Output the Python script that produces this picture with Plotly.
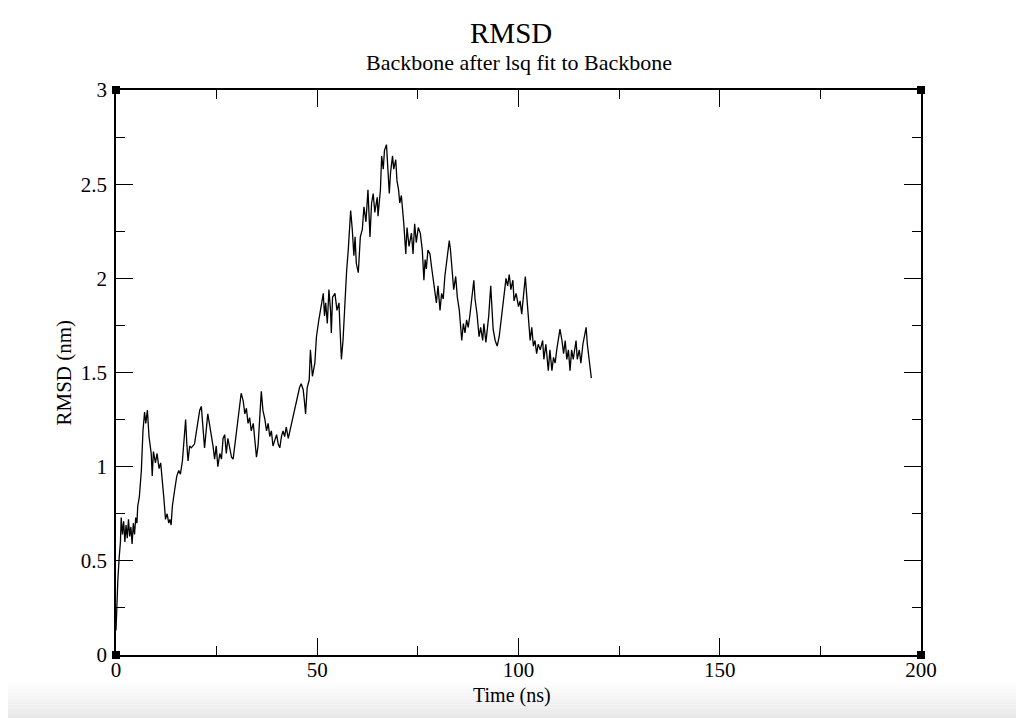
import plotly.graph_objects as go

title_text = "RMSD"
subtitle_text = "Backbone after lsq fit to Backbone"
x_title = "Time (ns)"
y_title = "RMSD (nm)"

time_ns = [
    0.0, 0.2, 0.46, 0.8, 1.1, 1.29, 1.6, 1.9, 2.2, 2.5, 2.8, 3.1, 3.4, 3.7, 4.0, 4.3, 4.6, 4.9, 5.2, 5.4,
    5.8, 6.3, 6.7, 7.1, 7.4, 7.8, 8.2, 8.75, 9.0, 9.3, 9.8, 10.2, 10.7, 11.1, 11.5, 11.9, 12.3, 12.7, 13.1, 13.4,
    13.7, 14.0, 14.6, 15.1, 15.6, 16.0, 16.5, 17.0, 17.3, 17.6, 17.9, 18.3, 18.7, 19.1, 19.5, 20.0, 20.4, 20.8, 21.2, 21.6,
    22.0, 22.4, 22.8, 23.2, 23.7, 24.1, 24.5, 24.9, 25.3, 25.8, 26.2, 26.6, 27.0, 27.4, 27.8, 28.2, 28.7, 29.1, 29.5, 29.9,
    30.3, 30.7, 31.1, 31.6, 32.0, 32.4, 32.8, 33.2, 33.6, 34.1, 34.5, 34.9, 35.3, 35.7, 36.1, 36.5, 37.0, 37.4, 37.8, 38.2,
    38.6, 39.0, 39.5, 39.9, 40.3, 40.7, 41.1, 41.5, 41.9, 42.3, 42.8, 43.2, 43.6, 44.0, 44.4, 44.8, 45.2, 45.6, 46.0, 46.5,
    46.8, 47.1, 47.5, 48.0, 48.3, 48.8, 49.4, 49.8, 50.4, 51.0, 51.5, 51.8, 52.1, 52.5, 52.9, 53.3, 53.5, 53.8, 54.4, 54.9,
    55.4, 55.6, 56.0, 56.4, 56.8, 57.3, 57.7, 58.1, 58.3, 58.7, 59.1, 59.4, 59.7, 60.2, 60.4, 60.7, 61.2, 61.6, 62.1, 62.6,
    63.1, 63.5, 63.9, 64.3, 64.9, 65.1, 65.7, 66.0, 66.4, 66.7, 67.2, 67.5, 67.9, 68.2, 68.7, 69.0, 69.5, 69.8, 70.2, 70.5,
    70.9, 71.5, 72.0, 72.3, 72.8, 73.4, 73.8, 74.2, 74.6, 75.1, 75.6, 76.1, 76.5, 76.8, 77.1, 77.5, 78.0, 78.4, 78.8, 79.2,
    79.6, 80.0, 80.5, 80.9, 81.3, 81.7, 82.1, 82.8, 83.1, 83.6, 83.9, 84.4, 84.8, 85.3, 85.6, 85.9, 86.3, 86.7, 87.1, 87.5,
    87.9, 88.3, 88.9, 89.2, 89.7, 90.2, 90.6, 91.1, 91.4, 91.9, 92.2, 92.6, 93.1, 93.4, 93.7, 94.2, 94.7, 95.2, 95.8, 96.2,
    96.9, 97.3, 97.7, 98.1, 98.6, 98.9, 99.4, 100.0, 100.4, 100.8, 101.2, 101.7, 102.0, 102.4, 102.9, 103.3, 103.7, 104.1, 104.5, 104.9,
    105.4, 106.0, 106.3, 106.8, 107.4, 107.8, 108.3, 108.7, 109.1, 109.5, 109.9, 110.3, 110.8, 111.2, 111.6, 112.0, 112.4, 112.8, 113.2, 113.6,
    114.3, 114.6, 115.1, 115.5, 116.0, 116.5, 116.8, 117.1, 117.5, 117.8, 118.1,
]

rmsd_nm = [
    0.13, 0.30, 0.40, 0.52, 0.60, 0.73, 0.64, 0.71, 0.60, 0.69, 0.62, 0.72, 0.63, 0.68, 0.59, 0.70, 0.64, 0.73, 0.70, 0.79,
    0.84, 0.98, 1.19, 1.29, 1.23, 1.30, 1.16, 1.07, 0.95, 1.08, 1.02, 1.07, 0.99, 1.02, 0.94, 0.83, 0.72, 0.75, 0.70, 0.72,
    0.69, 0.79, 0.88, 0.95, 0.98, 0.96, 1.03, 1.21, 1.25, 1.12, 1.03, 1.11, 1.10, 1.11, 1.12, 1.19, 1.26, 1.30, 1.32, 1.21,
    1.10, 1.19, 1.28, 1.23, 1.17, 1.11, 1.04, 1.11, 1.00, 1.07, 1.04, 1.15, 1.17, 1.07, 1.15, 1.11, 1.05, 1.04, 1.11, 1.19,
    1.26, 1.31, 1.39, 1.35, 1.28, 1.31, 1.23, 1.26, 1.19, 1.23, 1.12, 1.05, 1.11, 1.28, 1.40, 1.30, 1.25, 1.19, 1.23, 1.16,
    1.19, 1.11, 1.15, 1.17, 1.12, 1.10, 1.16, 1.19, 1.16, 1.21, 1.15, 1.19, 1.23, 1.26, 1.30, 1.35, 1.39, 1.42, 1.44, 1.41,
    1.35, 1.28, 1.42, 1.46, 1.62, 1.48, 1.55, 1.69, 1.78, 1.87, 1.92, 1.80, 1.87, 1.76, 1.94, 1.83, 1.71, 1.90, 1.92, 1.83,
    1.87, 1.76, 1.57, 1.67, 1.87, 2.04, 2.15, 2.26, 2.36, 2.26, 2.12, 2.22, 2.08, 2.03, 2.15, 2.22, 2.26, 2.38, 2.30, 2.47,
    2.22, 2.40, 2.45, 2.35, 2.43, 2.33, 2.47, 2.65, 2.58, 2.68, 2.71, 2.58, 2.45, 2.56, 2.65, 2.58, 2.63, 2.52, 2.47, 2.40,
    2.44, 2.29, 2.13, 2.27, 2.17, 2.24, 2.13, 2.29, 2.19, 2.27, 2.24, 2.15, 1.99, 2.10, 2.05, 2.15, 2.13, 2.06, 1.99, 1.94,
    1.87, 1.96, 1.83, 1.92, 1.89, 2.01, 2.08, 2.20, 2.15, 2.04, 1.94, 2.01, 1.90, 1.83, 1.74, 1.67, 1.76, 1.71, 1.78, 1.74,
    1.80, 1.89, 1.99, 1.89, 1.81, 1.69, 1.74, 1.67, 1.76, 1.66, 1.73, 1.80, 1.96, 1.83, 1.73, 1.67, 1.64, 1.69, 1.80, 1.88,
    2.00, 1.96, 2.02, 1.94, 1.99, 1.88, 1.92, 1.85, 1.88, 1.81, 1.92, 2.01, 1.92, 1.78, 1.67, 1.74, 1.64, 1.67, 1.60, 1.65,
    1.62, 1.67, 1.57, 1.65, 1.51, 1.62, 1.51, 1.58, 1.55, 1.62, 1.67, 1.73, 1.67, 1.60, 1.67, 1.57, 1.62, 1.51, 1.62, 1.57,
    1.67, 1.57, 1.62, 1.55, 1.65, 1.71, 1.74, 1.65, 1.58, 1.55, 1.47,
]

x_range = [0, 200]
y_range = [0, 3]

FONT = "Liberation Serif"

# page offset of the figure inside the browser window (default body margin)
OFF = 8
PLOT_L, PLOT_R, PLOT_T, PLOT_B = 116, 921, 90, 655  # target plot box in window pixels
PW, PH = PLOT_R - PLOT_L, PLOT_B - PLOT_T


def px_to_paper_x(px):
    return (px - PLOT_L) / PW


def px_to_paper_y(py):
    return (PLOT_B - py) / PH


fig = go.Figure()
fig.add_trace(go.Scatter(
    x=time_ns, y=rmsd_nm, mode="lines",
    line=dict(color="black", width=1.3),
    showlegend=False, hoverinfo="skip",
))

axis_common = dict(
    showgrid=False, zeroline=False,
    showline=True, linecolor="black", linewidth=1.5,
    mirror="allticks", ticks="inside", ticklen=17, tickwidth=1, tickcolor="black",
    tickfont=dict(family=FONT, size=21, color="black"),
)

fig.update_xaxes(
    range=x_range, tick0=0, dtick=50, ticklabelstandoff=-5,
    minor=dict(dtick=25, ticks="inside", ticklen=9, tickwidth=1, tickcolor="black", showgrid=False),
    **axis_common,
)
fig.update_yaxes(
    range=y_range, tick0=0, dtick=0.5, ticklabelstandoff=3,
    minor=dict(dtick=0.25, ticks="inside", ticklen=9, tickwidth=1, tickcolor="black", showgrid=False),
    **axis_common,
)

shapes = []
# light gray gradient band at the bottom of the page
n_bands = 12
top_px, bot_px = 683, 720
for i in range(n_bands):
    y0_px = top_px + (bot_px - top_px) * i / n_bands
    y1_px = top_px + (bot_px - top_px) * (i + 1) / n_bands
    g = int(255 - (255 - 230) * (i + 0.5) / n_bands)
    shapes.append(dict(
        type="rect", xref="paper", yref="paper",
        x0=px_to_paper_x(0), x1=px_to_paper_x(1030),
        y0=px_to_paper_y(y1_px), y1=px_to_paper_y(y0_px),
        fillcolor=f"rgb({g},{g},{g})", line=dict(width=0), layer="below",
    ))
# corner squares
for cx in (0, 1):
    for cy in (0, 1):
        shapes.append(dict(
            type="rect", xref="paper", yref="paper",
            xsizemode="pixel", ysizemode="pixel", xanchor=cx, yanchor=cy,
            x0=-4, x1=4, y0=-4, y1=4,
            fillcolor="black", line=dict(width=0),
        ))

annotations = [
    dict(text=title_text, xref="paper", yref="paper", x=px_to_paper_x(511), y=px_to_paper_y(33),
         xanchor="center", yanchor="middle", showarrow=False,
         font=dict(family=FONT, size=29, color="black")),
    dict(text=subtitle_text, xref="paper", yref="paper", x=px_to_paper_x(519), y=px_to_paper_y(62),
         xanchor="center", yanchor="middle", showarrow=False,
         font=dict(family=FONT, size=22, color="black")),
    dict(text=x_title, xref="paper", yref="paper", x=px_to_paper_x(511.5), y=px_to_paper_y(695),
         xanchor="center", yanchor="middle", showarrow=False,
         font=dict(family=FONT, size=20, color="black")),
    dict(text=y_title, xref="paper", yref="paper", x=px_to_paper_x(63), y=0.5,
         xanchor="center", yanchor="middle", showarrow=False, textangle=-90,
         font=dict(family=FONT, size=21, color="black")),
]

fig.update_layout(
    width=1024 - 2 * OFF, height=718 - OFF,
    margin=dict(l=PLOT_L - OFF, r=(1024 - 2 * OFF) - (PLOT_R - OFF), t=PLOT_T - OFF, b=(718 - OFF) - (PLOT_B - OFF)),
    paper_bgcolor="white", plot_bgcolor="white",
    shapes=shapes, annotations=annotations,
    showlegend=False,
)

fig.write_html("out.html")
